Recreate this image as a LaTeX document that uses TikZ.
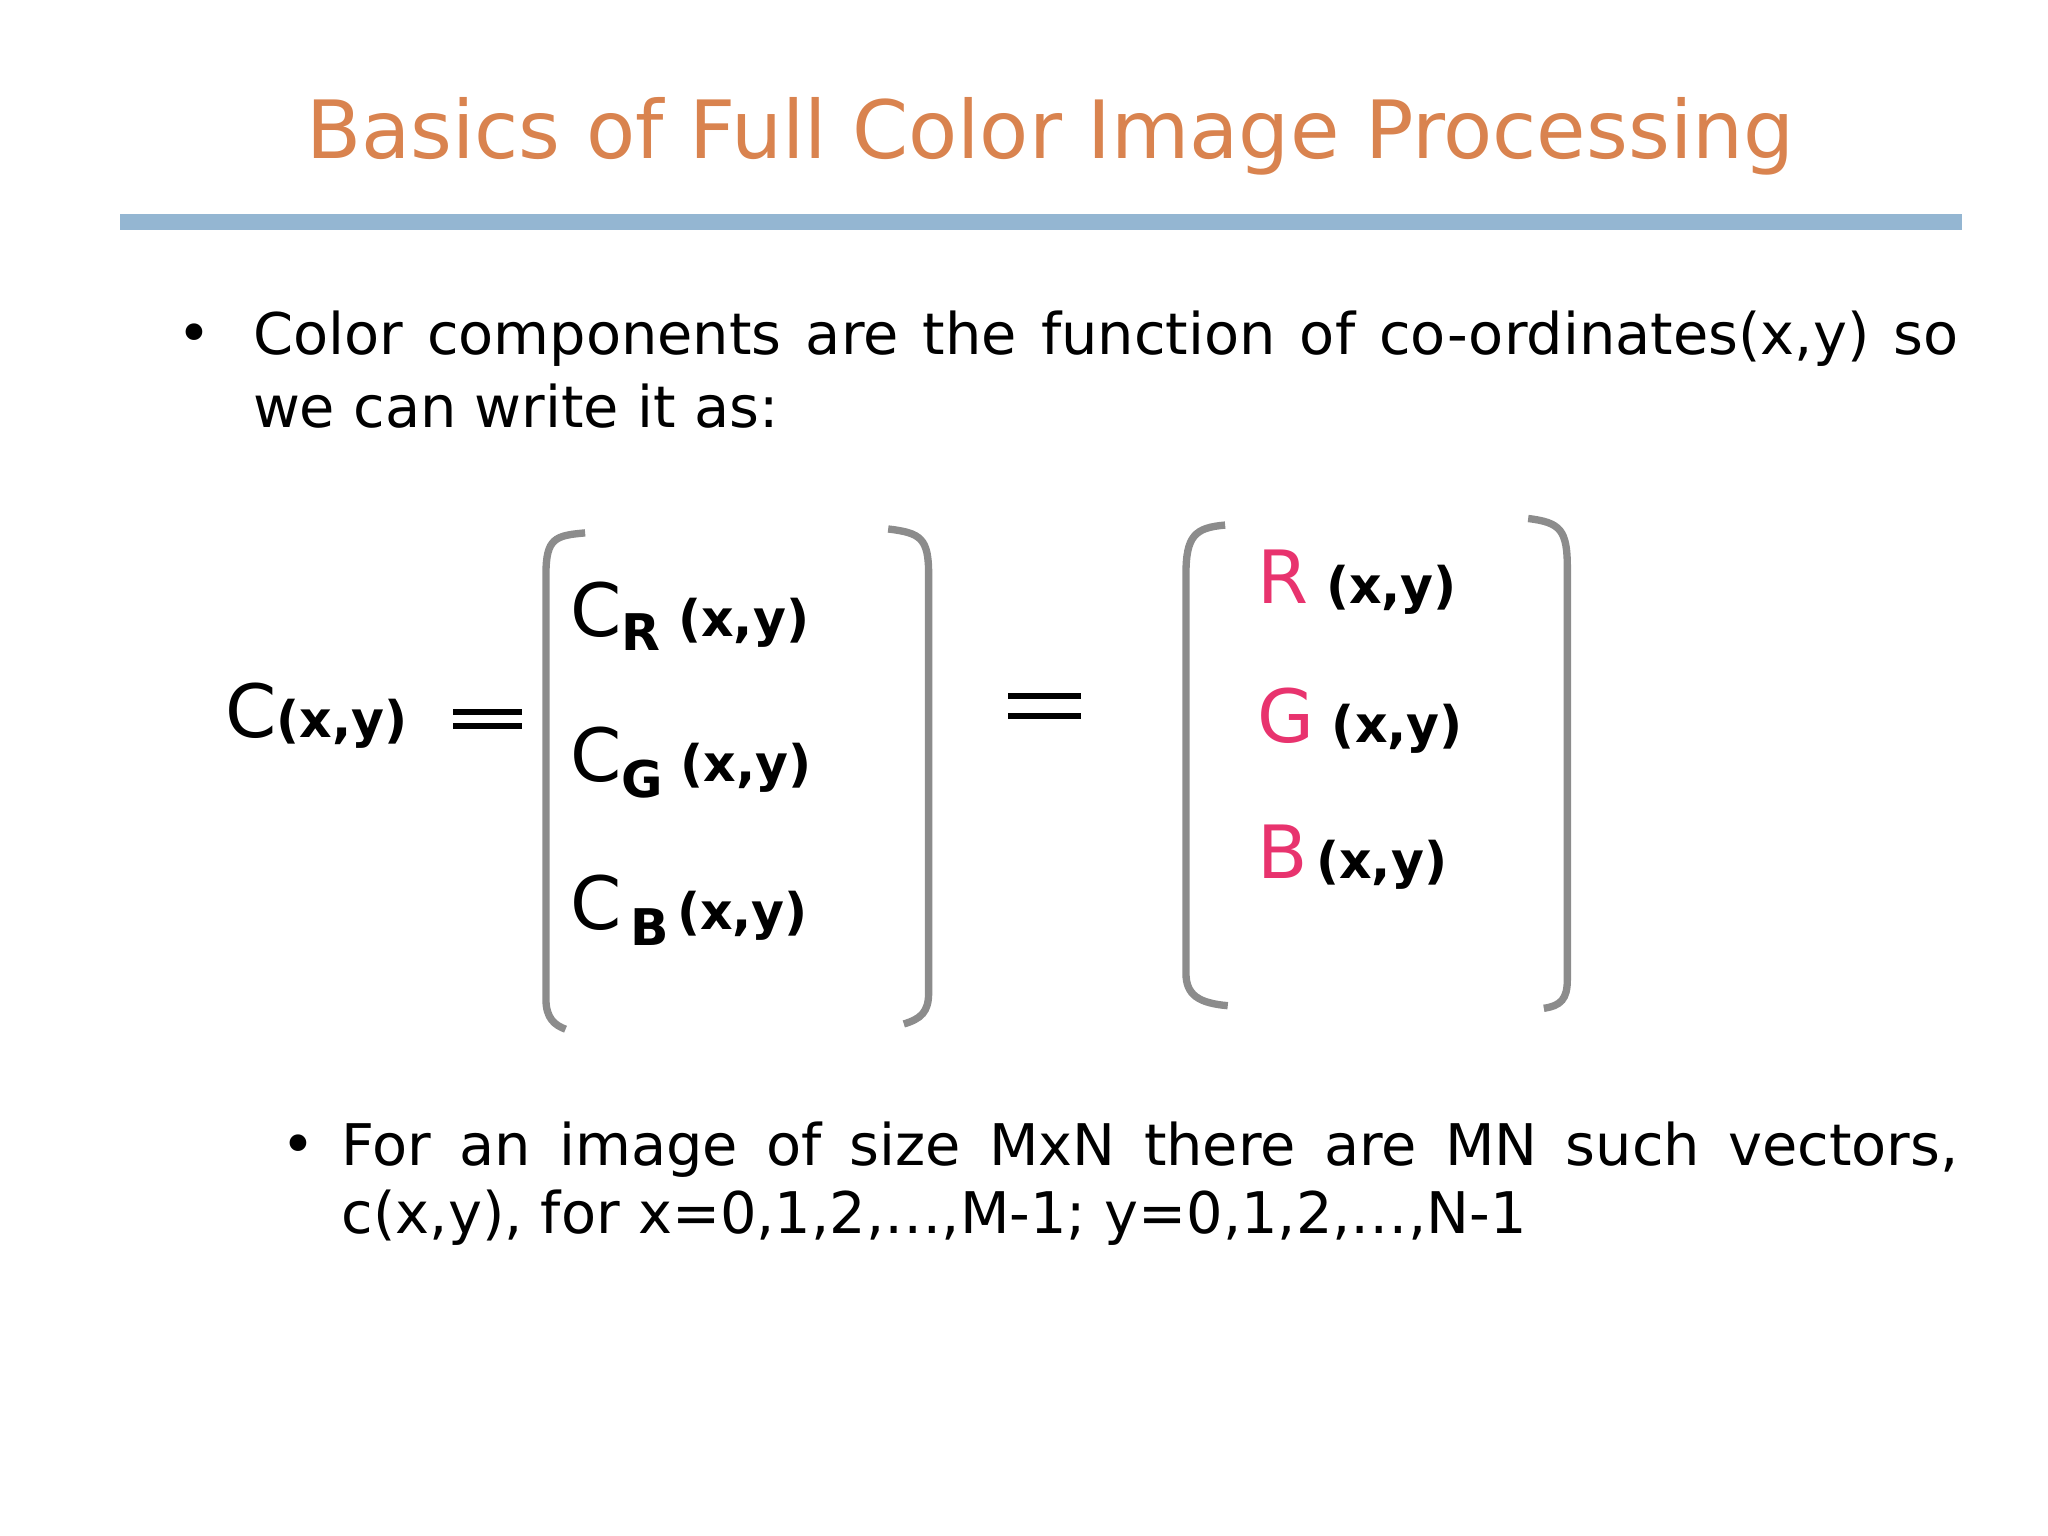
\documentclass[tikz,border=0pt]{standalone}
\usepackage{fontspec}
\setmainfont{DejaVu Sans}
\definecolor{ttl}{HTML}{D9834F}
\definecolor{rule}{HTML}{94B6D2}
\definecolor{pk}{HTML}{E8336E}
\definecolor{brk}{HTML}{8C8C8C}
\newcommand\bgl[1]{{\fontsize{16}{18}\selectfont\mdseries #1}}
\begin{document}
\begin{tikzpicture}[x=0.01cm,y=-0.01cm,
  body/.style={anchor=west,inner sep=0,font=\fontsize{12.5}{15}\selectfont},
  mat/.style={anchor=west,inner sep=0,font=\fontsize{11}{13}\selectfont\bfseries},
  brack/.style={draw=brk,line width=1.6pt}]
\useasboundingbox (0,0) rectangle (1568,1176);
\node[text=ttl,font=\fontsize{17.5}{21}\selectfont] (title) at (804,104) {Basics of Full Color Image Processing};
\fill[rule] (92,164) rectangle (1502,176);
\node[body] (b1) at (135,259) {\textbullet};
\node[body] (t1) at (193,259) {\makebox[13.05cm][s]{Color components are the function of co-ordinates(x,y) so}};
\node[body] (t1b) at (193,311) {we can write it as:};
% matrix
\node[mat] (lhs) at (172,548) {\bgl{C}(x,y)};
\draw[line width=1.2pt] (347,545)--(400,545) (347,556)--(400,556);
\draw[brack] (448,408) .. controls (425,410) and (418,412) .. (418,440) -- (418,765) .. controls (418,780) and (425,785) .. (433,788);
\draw[brack] (680,405) .. controls (705,408) and (711,412) .. (711,440) -- (711,760) .. controls (711,775) and (705,780) .. (692,784);
\node[mat] (cr) at (436,472) {\bgl{C}\raisebox{-0.5ex}{R} (x,y)};
\node[mat] (cg) at (436,584) {\bgl{C}\raisebox{-0.6ex}{G} (x,y)};
\node[mat] (cb) at (436,697) {\bgl{C}\,\raisebox{-0.6ex}{B}\,(x,y)};
\draw[line width=1.2pt] (772,533)--(828,533) (772,548)--(828,548);
\draw[brack] (938,402) .. controls (915,404) and (908,410) .. (908,440) -- (908,745) .. controls (908,762) and (918,768) .. (940,770);
\draw[brack] (1170,397) .. controls (1195,400) and (1200,406) .. (1200,435) -- (1200,750) .. controls (1200,765) and (1195,770) .. (1182,772);
\node[mat] (r) at (962,446) {\textcolor{pk}{\bgl{R}} (x,y)};
\node[mat] (g) at (962,552) {\textcolor{pk}{\bgl{G}} (x,y)};
\node[mat] (bb) at (962,656) {\textcolor{pk}{\bgl{B}}\,(x,y)};
\node[body] (b2) at (215,880) {\textbullet};
\node[body] (t2) at (261,880) {\makebox[12.37cm][s]{For an image of size MxN there are MN such vectors,}};
\node[body] (t2b) at (261,932) {c(x,y), for x=0,1,2,…,M-1; y=0,1,2,…,N-1};
\end{tikzpicture}
\end{document}
